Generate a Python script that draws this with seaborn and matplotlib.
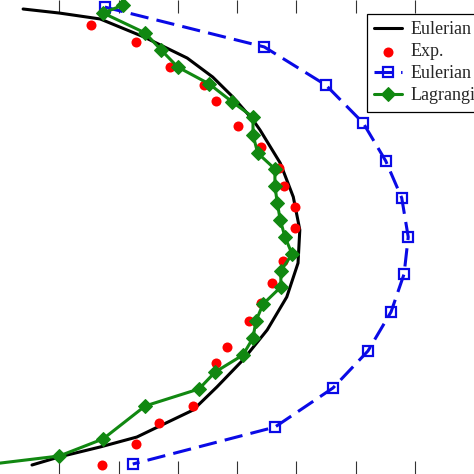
import numpy as np
import pandas as pd
import matplotlib
matplotlib.use("Agg")
import matplotlib.pyplot as plt
import seaborn as sns

# ---- data (x: velocity-like, y: radial position) ----
eul_x = [0.039, 0.100, 0.169, 0.243, 0.316, 0.359, 0.393, 0.427, 0.439, 0.473, 0.495,
         0.506, 0.503, 0.484, 0.451, 0.410, 0.366, 0.326, 0.270, 0.231, 0.169, 0.100, 0.054]
eul_y = [0.962, 0.945, 0.920, 0.844, 0.755, 0.675, 0.591, 0.494, 0.451, 0.312, 0.169,
         0.030, -0.110, -0.253, -0.392, -0.519, -0.633, -0.730, -0.797, -0.844, -0.886, -0.928, -0.962]

exp_x = [0.154, 0.230, 0.287, 0.344, 0.365, 0.402, 0.441, 0.471, 0.479, 0.498, 0.498,
         0.478, 0.459, 0.441, 0.420, 0.383, 0.365, 0.326, 0.268, 0.230, 0.172]
exp_y = [0.895, 0.823, 0.717, 0.641, 0.574, 0.468, 0.380, 0.291, 0.215, 0.127, 0.038,
         -0.101, -0.194, -0.278, -0.354, -0.464, -0.532, -0.713, -0.785, -0.873, -0.962]

eul2_x = [0.177, 0.446, 0.550, 0.613, 0.651, 0.678, 0.689, 0.682, 0.660, 0.621, 0.562, 0.464, 0.224]
eul2_y = [0.970, 0.802, 0.641, 0.481, 0.321, 0.165, 0.000, -0.156, -0.316, -0.481, -0.637, -0.802, -0.958]

lag_x = [0.208, 0.174, 0.245, 0.272, 0.300, 0.353, 0.392, 0.427, 0.427, 0.435, 0.464, 0.464,
         0.468, 0.473, 0.481, 0.493, 0.474, 0.474, 0.444, 0.432, 0.427, 0.410, 0.363, 0.336,
         0.245, 0.174, 0.100, -0.020]
lag_y = [0.979, 0.945, 0.861, 0.789, 0.717, 0.646, 0.570, 0.506, 0.430, 0.354, 0.287, 0.215,
         0.143, 0.072, 0.000, -0.072, -0.143, -0.211, -0.283, -0.354, -0.426, -0.498, -0.570, -0.641,
         -0.713, -0.852, -0.924, -0.960]

xticks = [0.1, 0.2, 0.3, 0.4, 0.5, 0.6, 0.7]

labels = ["Eulerian", "Exp.", "Eulerian", "Lagrangian"]

sns.set_theme(style="white")
plt.rcParams["font.family"] = ["Liberation Serif", "DejaVu Serif"]

fig = plt.figure(figsize=(4.74, 4.74), dpi=100)
ax = fig.add_axes([0, 0, 1, 1])

sns.lineplot(x=eul_x, y=eul_y, sort=False, estimator=None, color="black",
             linewidth=2.2, ax=ax, label=labels[0], zorder=2)
sns.scatterplot(x=exp_x, y=exp_y, color="#ff0000", s=52, linewidth=0,
                ax=ax, label=labels[1], zorder=3)
sns.lineplot(x=eul2_x, y=eul2_y, sort=False, estimator=None, color="#0a0ae6",
             linewidth=2.2, linestyle=(0, (6, 2.7)), marker="s", markersize=7.5,
             markerfacecolor="none", markeredgecolor="#0a0ae6", markeredgewidth=1.6,
             ax=ax, label=labels[2], zorder=4)
sns.lineplot(x=lag_x, y=lag_y, sort=False, estimator=None, color="#118811",
             linewidth=2.2, marker="D", markersize=6.8, markerfacecolor="#118811",
             markeredgecolor="#118811", ax=ax, label=labels[3], zorder=5)

ax.set_xlim(0, 0.8)
ax.set_ylim(-1, 1)
ax.set_xticks(xticks)
ax.set_yticks([])
ax.set_xticklabels([])
ax.tick_params(axis="x", which="both", direction="in", top=True, bottom=True,
               length=9.4, width=0.8, color="#333333", labelbottom=False, labeltop=False)
for s in ax.spines.values():
    s.set_visible(False)
ax.set_xlabel("")
ax.set_ylabel("")

handles, labs = ax.get_legend_handles_labels()
ax.get_legend().remove()
leg = fig.legend(handles, labs, loc="upper left",
                 bbox_to_anchor=(367 / 474, 1 - 14 / 474), bbox_transform=fig.transFigure,
                 borderaxespad=0, fontsize=13, frameon=True, fancybox=False,
                 framealpha=1, edgecolor="black", handlelength=1.55, handletextpad=0.45,
                 labelspacing=0.28, borderpad=0.4, scatterpoints=1)
leg.get_frame().set_linewidth(0.9)

fig.savefig("out.png", dpi=100)
